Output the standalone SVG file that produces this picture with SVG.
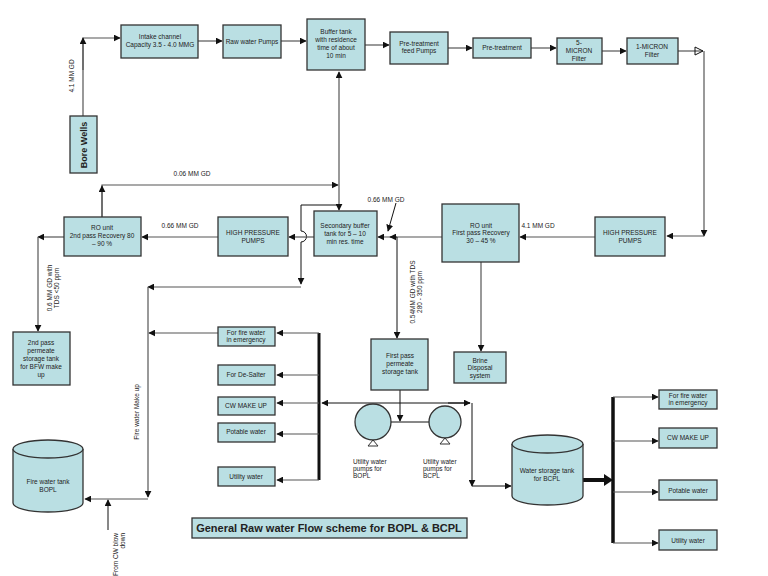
<svg xmlns="http://www.w3.org/2000/svg" width="768" height="576" viewBox="0 0 768 576">
<defs>
<marker id="a" viewBox="0 0 10 10" refX="9" refY="5" markerWidth="7" markerHeight="7" orient="auto-start-reverse" markerUnits="userSpaceOnUse"><path d="M0,0 L10,5 L0,10 z" fill="#111"/></marker>
<style>
.b{fill:#badfe3;stroke:#333;stroke-width:1.3}
.t{font-family:"Liberation Sans",Arial,sans-serif;font-size:6.5px;fill:#222;text-anchor:middle}
.c{fill:none;stroke:#555;stroke-width:1.2}
.k{fill:none;stroke:#111;stroke-width:1}
</style>
</defs>
<rect width="768" height="576" fill="#fff"/>
<g id="connectors">
<path class="c" d="M83,116 V38 H120" marker-end="url(#a)"/>
<path class="c" d="M83,70 V38" marker-end="url(#a)"/>
<path class="c" d="M198,41 H222" marker-end="url(#a)"/>
<path class="c" d="M281,41 H306" marker-end="url(#a)"/>
<path class="c" d="M365,45 H389" marker-end="url(#a)"/>
<path class="c" d="M448,48 H472" marker-end="url(#a)"/>
<path class="c" d="M531,48 H556" marker-end="url(#a)"/>
<path class="c" d="M602,51 H626" marker-end="url(#a)"/>
<path class="c" d="M678,51 H703"/>
<path class="k" d="M695,47 L703,51 L695,55 z" fill="#111"/>
<path class="c" d="M704,51 V236" marker-end="url(#a)"/>
<path class="c" d="M704,236 H667" marker-end="url(#a)"/>
<path class="c" d="M595,237 H520" marker-end="url(#a)"/>
<path class="c" d="M442,237 H378" marker-end="url(#a)"/>
<path class="c" d="M397,237 H390" marker-end="url(#a)"/>
<path class="k" d="M397,237 V338" marker-end="url(#a)"/>
<path class="k" d="M396,203 L388,231" marker-end="url(#a)"/>
<path class="c" d="M481,262 V351" marker-end="url(#a)"/>
<path class="c" d="M339,72 V210" marker-start="url(#a)" marker-end="url(#a)"/>
<path class="k" d="M301,205 H338"/>
<path class="k" d="M301,205 V231 a5,5 0 0 1 0,11 V284" marker-end="url(#a)"/>
<path class="c" d="M314,237 H289" marker-end="url(#a)"/>
<path class="c" d="M301,287 H148" marker-end="url(#a)"/>
<path class="c" d="M218,237 H142" marker-end="url(#a)"/>
<path class="c" d="M102,217 V185 H338" marker-end="url(#a)"/>
<path class="c" d="M102,217 V186" marker-end="url(#a)"/>
<path class="c" d="M64,237 H38" marker-end="url(#a)"/>
<path class="c" d="M38,237 V331" marker-end="url(#a)"/>
<path class="c" d="M148,287 V497" marker-end="url(#a)"/>
<path class="c" d="M148,499 H85" marker-end="url(#a)"/>
<path class="k" d="M108,530 V500" marker-end="url(#a)"/>
<path class="c" d="M218,333 H149" marker-end="url(#a)"/>
<path d="M319,333 V480" stroke="#111" stroke-width="3" fill="none"/>
<path class="c" d="M319,333 H277" marker-end="url(#a)"/>
<path class="c" d="M319,375 H277" marker-end="url(#a)"/>
<path class="c" d="M319,403 H277" marker-end="url(#a)"/>
<path class="c" d="M319,434 H277" marker-end="url(#a)"/>
<path class="c" d="M319,480 H277" marker-end="url(#a)"/>
<path class="k" d="M470,403 H322" marker-end="url(#a)"/>
<path class="k" d="M448,403 H470" marker-end="url(#a)"/>
<path class="k" d="M472,403 V486" marker-end="url(#a)"/>
<path class="k" d="M472,486 H511" marker-end="url(#a)"/>
<path class="k" d="M400,390 V421" marker-end="url(#a)"/>
<path class="k" d="M376,422 H438" marker-start="url(#a)" marker-end="url(#a)"/>
<path d="M583,480 H606" stroke="#111" stroke-width="4" fill="none"/>
<path d="M604,474 L613,480 L604,486 z" fill="#111"/>
<path d="M613,397 V543" stroke="#111" stroke-width="3.5" fill="none"/>
<path class="c" d="M613,397 H658" marker-end="url(#a)"/>
<path class="c" d="M613,441 H658" marker-end="url(#a)"/>
<path class="c" d="M613,492 H658" marker-end="url(#a)"/>
<path class="c" d="M613,543 H658" marker-end="url(#a)"/>
<text class="t" x="192" y="176">0.06 MM GD</text>
<text class="t" x="180" y="228">0.66 MM GD</text>
<text class="t" x="538" y="228">4.1 MM GD</text>
<text class="t" x="386" y="202">0.66 MM GD</text>
<text class="t" transform="translate(74,76) rotate(-90)">4.1 MM GD</text>
<text class="t" transform="translate(52,288) rotate(-90)">0.6 MM GD with</text>
<text class="t" transform="translate(59,288) rotate(-90)">TDS &lt;50 ppm</text>
<text class="t" transform="translate(415,292) rotate(-90)">0.54MM GD with TDS</text>
<text class="t" transform="translate(422,292) rotate(-90)">280 - 350 ppm</text>
<text class="t" transform="translate(139,412) rotate(-90)">Fire water Make up</text>
<text class="t" transform="translate(118,533) rotate(-90)" text-anchor="end" style="text-anchor:end">From CW blow</text>
<text class="t" transform="translate(125,533) rotate(-90)" style="text-anchor:end">down</text>
</g>
<g id="bore"><rect class="b" x="70" y="116" width="27" height="57"/><text class="t" transform="translate(87,145) rotate(-90)" style="font-weight:bold;font-size:9px">Bore Wells</text></g>
<g id="intake"><rect class="b" x="121" y="25" width="77" height="33"/><text class="t" x="160" y="39">Intake channel</text><text class="t" x="160" y="47">Capacity 3.5 - 4.0 MMG</text></g>
<g id="rawpump"><rect class="b" x="223" y="25" width="58" height="33"/><text class="t" x="252" y="44">Raw water Pumps</text></g>
<g id="buffer"><rect class="b" x="307" y="19" width="58" height="51"/><text class="t" x="336" y="34">Buffer tank</text><text class="t" x="336" y="42">with residence</text><text class="t" x="336" y="50">time of about</text><text class="t" x="336" y="58">10 min</text></g>
<g id="ptpump"><rect class="b" x="390" y="32" width="58" height="32"/><text class="t" x="419" y="46">Pre-treatment</text><text class="t" x="419" y="53">feed Pumps</text></g>
<g id="pt"><rect class="b" x="473" y="38" width="58" height="20"/><text class="t" x="502" y="50">Pre-treatment</text></g>
<g id="f5"><rect class="b" x="557" y="38" width="45" height="26"/><text class="t" x="579" y="45">5-</text><text class="t" x="579" y="53">MICRON</text><text class="t" x="579" y="61">Filter</text></g>
<g id="f1"><rect class="b" x="627" y="38" width="51" height="26"/><text class="t" x="652" y="49">1-MICRON</text><text class="t" x="652" y="57">Filter</text></g>
<g id="hp1"><rect class="b" x="595" y="217" width="70" height="39"/><text class="t" x="630" y="235">HIGH PRESSURE</text><text class="t" x="630" y="243">PUMPS</text></g>
<g id="ro1"><rect class="b" x="442" y="204" width="77" height="58"/><text class="t" x="481" y="228">RO unit</text><text class="t" x="481" y="235">First pass Recovery</text><text class="t" x="481" y="243">30 – 45 %</text></g>
<g id="sbuf"><rect class="b" x="314" y="211" width="63" height="45"/><text class="t" x="345" y="228">Secondary buffer</text><text class="t" x="345" y="236">tank for   5 – 10</text><text class="t" x="345" y="244">min res. time</text></g>
<g id="hp2"><rect class="b" x="218" y="217" width="70" height="39"/><text class="t" x="253" y="235">HIGH PRESSURE</text><text class="t" x="253" y="243">PUMPS</text></g>
<g id="ro2"><rect class="b" x="64" y="217" width="77" height="39"/><text class="t" x="102" y="230">RO unit</text><text class="t" x="102" y="238">2nd pass Recovery 80</text><text class="t" x="102" y="246">– 90 %</text></g>
<g id="st2"><rect class="b" x="13" y="332" width="57" height="53"/><text class="t" x="41" y="345">2nd pass</text><text class="t" x="41" y="353">permeate</text><text class="t" x="41" y="361">storage tank</text><text class="t" x="41" y="369">for BFW make</text><text class="t" x="41" y="377">up</text></g>
<g id="fpst"><rect class="b" x="371" y="339" width="57" height="51"/><text class="t" x="400" y="358">First pass</text><text class="t" x="400" y="366">permeate</text><text class="t" x="400" y="374">storage tank</text></g>
<g id="brine"><rect class="b" x="454" y="352" width="52" height="31"/><text class="t" x="480" y="363">Brine</text><text class="t" x="480" y="370">Disposal</text><text class="t" x="480" y="378">system</text></g>
<g id="lfw"><rect class="b" x="218" y="327" width="57" height="19"/><text class="t" x="246" y="335">For fire water</text><text class="t" x="246" y="342">in emergency</text></g>
<g id="lds"><rect class="b" x="218" y="365" width="57" height="20"/><text class="t" x="246" y="377">For De-Salter</text></g>
<g id="lcw"><rect class="b" x="218" y="397" width="57" height="18"/><text class="t" x="246" y="408">CW MAKE UP</text></g>
<g id="lpw"><rect class="b" x="218" y="423" width="57" height="19"/><text class="t" x="246" y="434">Potable water</text></g>
<g id="luw"><rect class="b" x="218" y="467" width="57" height="19"/><text class="t" x="246" y="479">Utility water</text></g>
<g id="pump1"><path d="M373,440 L368,446 H378 z" fill="#fff" stroke="#333"/><circle class="b" cx="373" cy="422" r="18"/><text class="t" x="353" y="464" style="text-anchor:start">Utility water</text><text class="t" x="353" y="471" style="text-anchor:start">pumps for</text><text class="t" x="353" y="478" style="text-anchor:start">BOPL</text></g>
<g id="pump2"><path d="M445,438 L440,444 H450 z" fill="#fff" stroke="#333"/><circle class="b" cx="445" cy="422" r="16"/><text class="t" x="423" y="464" style="text-anchor:start">Utility water</text><text class="t" x="423" y="471" style="text-anchor:start">pumps for</text><text class="t" x="423" y="478" style="text-anchor:start">BCPL</text></g>
<g id="fwt"><path class="b" d="M13,449 V503 A35,9 0 0 0 83,503 V449"/><ellipse class="b" cx="48" cy="449" rx="35" ry="9"/><text class="t" x="48" y="484">Fire water tank</text><text class="t" x="48" y="492">BOPL</text></g>
<g id="wst"><path class="b" d="M512,444 V496 A35.5,9 0 0 0 583,496 V444"/><ellipse class="b" cx="547.5" cy="444" rx="35.5" ry="9"/><text class="t" x="547" y="473">Water storage tank</text><text class="t" x="547" y="481">for BCPL</text></g>
<g id="rfw"><rect class="b" x="659" y="390" width="58" height="19"/><text class="t" x="688" y="398">For fire water</text><text class="t" x="688" y="405">in emergency</text></g>
<g id="rcw"><rect class="b" x="659" y="428" width="58" height="20"/><text class="t" x="688" y="440">CW MAKE UP</text></g>
<g id="rpw"><rect class="b" x="659" y="480" width="58" height="20"/><text class="t" x="688" y="493">Potable water</text></g>
<g id="ruw"><rect class="b" x="659" y="530" width="58" height="20"/><text class="t" x="688" y="543">Utility water</text></g>
<g id="title"><rect class="b" x="192" y="518" width="275" height="20"/><text class="t" x="329" y="532" style="font-size:11px;font-weight:bold">General Raw water Flow scheme for BOPL &amp; BCPL</text></g>
</svg>
